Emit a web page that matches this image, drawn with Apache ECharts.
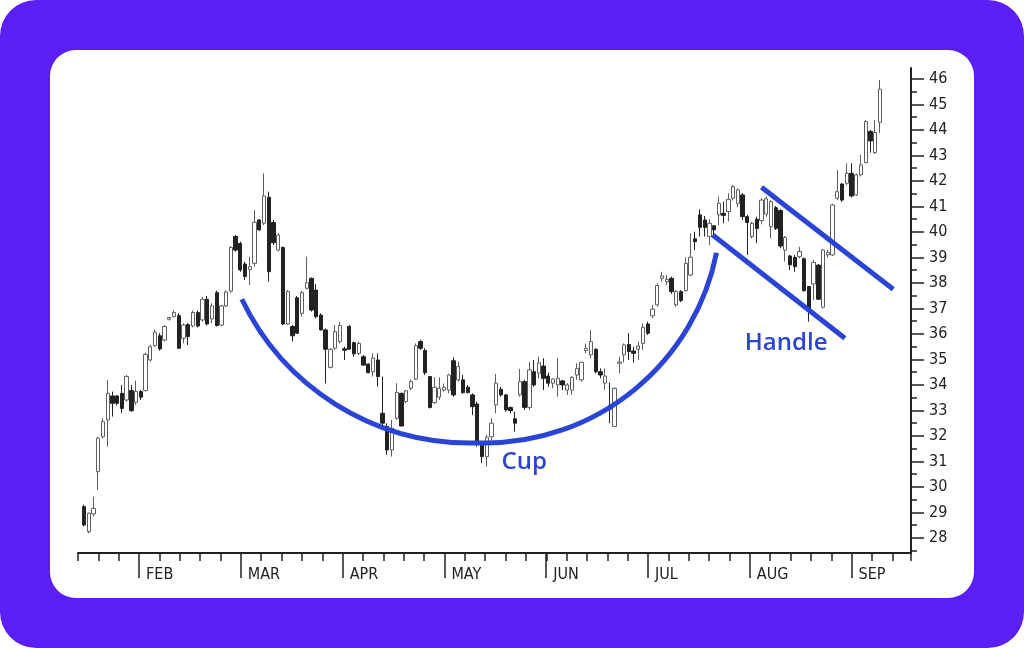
<!DOCTYPE html>
<html><head><meta charset="utf-8">
<script src="https://cdn.jsdelivr.net/npm/echarts@6/dist/echarts.min.js"></script>
<style>
html,body{margin:0;padding:0;background:#fff;width:1024px;height:648px;overflow:hidden}
#frame{position:absolute;left:0;top:0;width:1024px;height:648px;background:#5b1ff5;border-radius:36px}
#panel{position:absolute;left:50px;top:50px;width:924px;height:548px;background:#fff;border-radius:26px}
#chart{position:absolute;left:0;top:0;width:1024px;height:648px}
</style></head><body>
<div id="frame"></div><div id="panel"></div><div id="chart"></div>
<script>
// ---- data (trading-day index = position in arrays) ----
const opens = [29.23,28.25,28.94,30.60,31.97,32.63,33.57,33.57,33.67,33.41,33.78,33.32,33.74,33.78,34.98,35.54,35.93,35.76,36.58,36.68,
36.72,35.83,36.37,36.31,36.84,36.55,37.36,36.59,37.62,36.35,37.10,37.68,39.82,39.55,38.74,38.52,38.77,40.47,40.34,41.36,
40.37,39.29,39.39,36.39,36.29,37.42,36.81,37.79,38.18,37.72,36.74,36.16,34.69,35.44,35.70,35.42,36.29,35.66,35.24,35.11,
34.82,34.52,34.98,32.89,32.37,31.45,32.69,33.67,33.35,33.87,34.23,35.70,35.35,34.33,33.31,33.52,33.80,33.80,34.95,34.20,
34.20,33.91,33.61,33.25,31.71,31.19,31.97,33.22,33.83,33.61,33.12,32.67,33.61,34.13,33.12,34.52,34.46,34.74,34.35,34.07,
34.00,34.16,33.80,33.80,34.39,34.20,35.35,35.18,35.40,34.52,34.07,33.20,32.37,34.85,35.18,35.59,35.33,35.40,35.63,36.39,
36.71,37.14,38.18,38.05,38.18,37.14,37.66,37.70,38.31,39.73,40.67,40.47,39.82,40.24,40.67,40.73,40.80,41.32,41.12,41.45,
40.60,39.82,40.50,40.45,40.70,40.21,40.95,40.84,39.29,39.06,39.00,39.03,38.95,37.86,37.96,38.70,37.05,39.10,39.10,41.32,
41.88,41.91,42.30,41.45,42.24,42.72,43.94,43.11,44.30];
const closes = [28.51,28.97,29.16,31.91,32.56,33.67,33.28,33.28,33.08,34.33,32.99,33.74,33.52,35.20,35.50,36.07,35.41,36.29,36.64,36.84,
35.44,36.35,35.90,36.84,36.31,37.36,36.39,37.10,36.33,37.10,37.65,39.39,39.29,38.51,38.25,38.64,40.38,40.08,41.41,38.44,
39.58,39.88,36.39,37.66,35.93,36.03,37.62,38.01,36.94,36.68,36.16,35.40,35.40,36.09,36.33,35.36,35.40,35.22,35.63,34.78,
34.48,35.05,34.33,32.50,31.45,32.30,33.71,32.39,33.77,34.13,35.54,35.44,34.48,33.12,33.91,33.87,33.91,34.39,33.61,34.72,
33.70,33.70,33.15,31.71,31.19,31.95,32.50,34.07,33.61,33.02,32.99,32.50,34.13,33.12,34.59,34.00,34.87,34.26,34.07,34.23,
34.26,34.00,34.00,34.30,34.65,34.89,35.44,35.70,34.52,34.39,34.35,33.05,33.87,34.90,35.57,35.31,35.24,35.53,36.26,36.03,
36.97,37.90,38.27,38.14,37.66,37.66,37.31,38.77,39.01,39.62,40.18,40.18,40.34,40.08,41.12,40.65,41.28,41.78,41.65,40.60,
40.37,40.34,40.14,41.25,41.30,41.19,40.14,39.45,39.79,38.71,38.64,39.23,37.70,36.97,38.81,37.36,39.29,39.20,41.06,41.58,
41.25,42.30,41.41,42.24,42.63,44.33,43.57,43.90,45.60];
const lows = [28.45,28.19,28.84,29.88,31.91,31.58,32.76,33.20,32.89,33.35,32.95,33.22,33.41,33.74,34.92,35.50,35.35,35.70,36.52,36.65,
35.41,35.63,35.57,36.26,36.26,36.48,36.34,36.42,36.29,36.31,37.05,37.62,39.23,38.44,38.12,37.92,38.64,40.05,40.27,38.05,
39.49,39.23,36.35,36.35,35.70,36.00,36.68,37.75,36.88,36.61,36.13,34.06,34.65,35.37,35.63,34.98,35.37,35.11,35.17,34.75,
34.46,34.33,33.94,32.43,31.26,31.19,32.63,32.37,33.28,33.80,34.20,35.37,34.39,33.08,33.25,33.41,33.74,33.67,33.54,34.13,
33.65,33.67,32.82,31.58,30.93,30.80,31.84,32.89,33.54,32.95,32.89,32.17,33.54,33.02,33.02,33.93,34.26,33.80,33.93,33.87,
33.54,33.80,33.61,33.61,34.20,34.13,35.24,35.05,34.46,34.26,33.80,32.50,32.35,34.46,34.88,34.98,34.88,34.98,35.37,35.96,
36.61,37.07,38.05,37.92,37.57,37.07,37.25,37.66,38.27,39.29,39.82,39.82,39.49,39.82,40.27,40.34,40.41,41.23,40.97,40.47,
39.10,39.75,39.56,40.30,40.60,39.75,40.08,39.36,38.84,38.51,38.44,38.97,37.66,36.48,37.33,37.33,37.00,39.00,39.06,41.25,
41.19,41.84,41.36,41.41,42.17,42.69,43.11,43.06,43.87];
const highs = [29.30,29.00,29.62,31.97,32.69,34.19,33.74,33.60,34.00,34.39,34.00,34.17,33.80,35.27,35.57,36.16,36.03,36.35,36.68,36.92,
36.81,36.42,36.42,36.92,36.92,37.46,37.49,37.20,37.70,37.14,37.70,39.45,39.88,39.62,38.84,39.03,40.86,40.50,42.30,41.58,
40.47,39.95,39.43,37.72,36.35,37.49,37.69,39.03,38.22,37.96,36.81,36.22,35.44,36.35,36.48,35.50,36.35,35.70,35.70,35.17,
34.85,35.24,35.24,34.33,32.50,32.63,34.07,33.70,33.80,34.22,35.63,35.77,35.44,34.35,34.30,34.30,34.06,34.43,35.08,34.91,
34.39,34.00,33.67,33.35,31.78,32.04,32.69,34.43,33.93,33.64,33.15,32.95,34.63,34.20,34.91,34.98,35.11,35.05,34.48,34.26,
35.05,34.20,34.07,34.35,34.85,34.91,35.63,36.16,35.44,34.65,34.65,34.10,33.90,35.11,35.63,36.03,35.50,35.70,36.42,36.48,
37.14,37.99,38.44,38.31,38.25,37.72,37.72,39.00,39.95,40.01,40.89,40.63,40.50,40.27,41.39,41.19,41.52,41.84,41.71,41.52,
40.67,40.40,40.60,41.32,41.40,41.25,41.02,40.89,39.84,39.10,39.10,39.42,39.00,37.88,38.90,38.74,39.32,39.30,41.10,42.43,
41.91,42.69,42.69,42.30,43.02,44.39,44.00,44.39,45.96];

// axis ticks and labels
const monthLabels = ['FEB','MAR','APR','MAY','JUN','JUL','AUG','SEP'];
const monthTicks = [11.62, 33.10, 54.59, 76.07, 97.56, 119.04, 140.53, 162.01];
const priceLabels = [28,29,30,31,32,33,34,35,36,37,38,39,40,41,42,43,44,45,46];
const priceHalfTicks = [27.5,28.5,29.5,30.5,31.5,32.5,33.5,34.5,35.5,36.5,37.5,38.5,39.5,40.5,41.5,42.5,43.5,44.5,45.5];
const X_MIN = -1.266, X_MAX = 174.55, MINOR_STEP = 4.297;
const minorTicks = [];
for (let k = 0; k <= 40; k++) minorTicks.push(+(X_MIN + k * MINOR_STEP).toFixed(3));
minorTicks.push(X_MAX);

// annotations (day index, price)
// cup = two circular arcs joined at the bottom: centre (day, price), radius in days, angles in degrees
const cupLeft  = {cx: 81.47, cy: 41.647, r: 53.40, from: 90, to: 154.4};
const cupRight = {cx: 84.64, cy: 40.98,  r: 49.81, from: 11.2, to: 90};
const handleUpper = [[143.0,41.75],[170.8,37.75]];
const handleLower = [[132.7,39.88],[160.6,35.83]];
const textLabels = [[92.9,30.98,'Cup'],[148.2,35.65,'Handle']];

const candleData = opens.map((o, i) => [i, o, closes[i], lows[i], highs[i]]);

const BLUE = '#2a44d6';
const AXFONT = '"DejaVu Sans Condensed", "DejaVu Sans", sans-serif';
const FONT = '"Open Sans", "Noto Sans", sans-serif';
const AX = '#222';
const rad = d => d * Math.PI / 180;

const chart = echarts.init(document.getElementById('chart'), null, {renderer: 'canvas'});
chart.setOption({
  animation: false,
  backgroundColor: 'transparent',
  grid: {left: 78, right: 113, top: 68, bottom: 95},
  xAxis: [
    {type: 'value', min: X_MIN, max: X_MAX, position: 'bottom',
     axisLine: {show: true, onZero: false, lineStyle: {color: AX, width: 2}},
     axisTick: {show: true, customValues: minorTicks, length: 8, lineStyle: {color: AX, width: 1.5}},
     axisLabel: {show: false}, splitLine: {show: false}},
    {type: 'value', min: X_MIN, max: X_MAX, position: 'bottom',
     axisLine: {show: false, onZero: false},
     axisTick: {show: true, customValues: monthTicks, length: 25, lineStyle: {color: AX, width: 1.5}},
     axisLabel: {show: true, customValues: monthTicks, margin: 14, align: 'left', padding: [0,0,0,7],
       color: AX, fontSize: 16, fontFamily: AXFONT,
       formatter: v => { let b = 0; monthTicks.forEach((t, i) => { if (Math.abs(t - v) < Math.abs(monthTicks[b] - v)) b = i; }); return monthLabels[b]; }},
     splitLine: {show: false}}
  ],
  yAxis: [
    {type: 'value', position: 'right', min: 27.41, max: 46.43,
     axisLine: {show: true, onZero: false, lineStyle: {color: AX, width: 2}},
     axisTick: {show: true, customValues: priceLabels, length: 13, lineStyle: {color: AX, width: 1.5}},
     axisLabel: {show: true, customValues: priceLabels, margin: 18, color: AX, fontSize: 16, fontFamily: AXFONT},
     splitLine: {show: false}},
    {type: 'value', position: 'right', min: 27.41, max: 46.43,
     axisLine: {show: false, onZero: false},
     axisTick: {show: true, customValues: priceHalfTicks, length: 6, lineStyle: {color: AX, width: 1.5}},
     axisLabel: {show: false}, splitLine: {show: false}}
  ],
  series: [
    {type: 'candlestick', xAxisIndex: 0, yAxisIndex: 0, data: candleData, barWidth: 3.8,
     itemStyle: {color: '#ffffff', color0: '#222222', borderColor: '#5e5e5e', borderColor0: '#222222', borderWidth: 1},
     z: 2},
    {type: 'custom', xAxisIndex: 0, yAxisIndex: 0, data: [[cupLeft.cx, cupLeft.cy]], z: 3, silent: true,
     renderItem: (params, api) => {
       const c1 = api.coord([cupLeft.cx, cupLeft.cy]);
       const r1 = api.size([cupLeft.r, 0])[0];
       const c2 = api.coord([cupRight.cx, cupRight.cy]);
       const r2 = api.size([cupRight.r, 0])[0];
       const style = {stroke: BLUE, lineWidth: 5, fill: null, lineCap: 'butt'};
       return {type: 'group', children: [
         {type: 'arc', shape: {cx: c1[0], cy: c1[1], r: r1, startAngle: rad(cupLeft.from), endAngle: rad(cupLeft.to), clockwise: true}, style},
         {type: 'arc', shape: {cx: c2[0], cy: c2[1], r: r2, startAngle: rad(cupRight.from), endAngle: rad(cupRight.to), clockwise: true}, style},
         {type: 'line', shape: {x1: c1[0], y1: c1[1] + r1, x2: c2[0], y2: c2[1] + r2}, style}
       ]};
     }},
    {type: 'line', xAxisIndex: 0, yAxisIndex: 0, data: handleUpper, symbol: 'none',
     lineStyle: {color: BLUE, width: 5, cap: 'butt'}, z: 3, silent: true},
    {type: 'line', xAxisIndex: 0, yAxisIndex: 0, data: handleLower, symbol: 'none',
     lineStyle: {color: BLUE, width: 5, cap: 'butt'}, z: 3, silent: true},
    {type: 'scatter', xAxisIndex: 0, yAxisIndex: 0, data: textLabels, symbolSize: 1,
     itemStyle: {color: 'rgba(0,0,0,0)', opacity: 1},
     label: {show: true, position: 'inside', formatter: p => p.value[2], color: BLUE, fontSize: 24,
       fontWeight: 600, fontFamily: FONT, textBorderWidth: 0, textBorderColor: 'transparent'}, z: 4, silent: true}
  ]
});
</script></body></html>
